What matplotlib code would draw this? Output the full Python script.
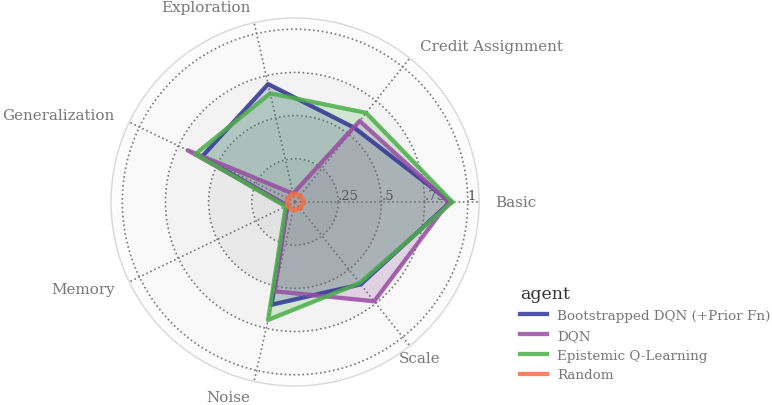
import numpy as np
import matplotlib
matplotlib.use("Agg")
import matplotlib.pyplot as plt

# ---- data ----
categories = ["Basic", "Credit Assignment", "Exploration", "Generalization",
              "Memory", "Noise", "Scale"]
agents = ["Bootstrapped DQN (+Prior Fn)", "DQN", "Epistemic Q-Learning", "Random"]
boot_dqn = [0.90, 0.55, 0.70, 0.60, 0.05, 0.61, 0.61]
dqn = [0.89, 0.60, 0.05, 0.69, 0.05, 0.53, 0.735]
epistemic = [0.91, 0.66, 0.645, 0.64, 0.06, 0.70, 0.60]
random_agent = [0.05, 0.05, 0.05, 0.05, 0.05, 0.05, 0.05]
series = [boot_dqn, dqn, epistemic, random_agent]
colors = ["#313695", "#984ea3", "#4daf4a", "#f46d43"]
r_ticks = [0.25, 0.5, 0.75, 1.0]
r_tick_labels = [".25", ".5", ".75", "1"]
band_colors = ["#e2e2e2", "#e9e9e9", "#f3f3f3", "#f9f9f9"]

plt.rcParams["font.family"] = ["DejaVu Serif"]

fig = plt.figure(figsize=(7.72, 4.06), dpi=100, facecolor="white")
ax = fig.add_axes([0.1438, 0.0468, 0.4767, 0.9064], polar=True)
ax.set_facecolor("#fcfcfc")
rmax = 1.065
ax.set_ylim(0, rmax)

# background circular bands
full = np.linspace(0, 2 * np.pi, 361)
inner = 0.0
for r, c in zip(r_ticks, band_colors):
    ax.fill_between(full, inner, r, color=c, zorder=0, linewidth=0)
    inner = r

n = len(categories)
angles = np.linspace(0, 2 * np.pi, n, endpoint=False)
closed = np.concatenate([angles, angles[:1]])

for name, vals, col in zip(agents, series, colors):
    v = np.concatenate([vals, vals[:1]])
    ax.plot(closed, v, "-", linewidth=3.1, color=col, alpha=0.85, label=name, zorder=3)
    ax.fill(closed, v, color=col, alpha=0.2, zorder=2)

ax.set_thetagrids(np.degrees(angles), categories, fontsize=10.9, color="#777777")
deg = np.degrees(angles)
labels = ax.get_xticklabels()
for lab, a in zip(labels[:-1], deg[:-1]):
    if 90 <= a <= 270:
        lab.set_horizontalalignment("right")
    else:
        lab.set_horizontalalignment("left")
ax.tick_params(axis="x", pad=1)

ax.set_rgrids(r_ticks, r_tick_labels, angle=0, fontsize=9.5, color="#444444")
for lab in ax.get_yticklabels():
    lab.set_horizontalalignment("left")
    lab.set_verticalalignment("bottom")

ax.grid(True, color="#777777", linestyle=":", linewidth=1.2)
ax.spines["polar"].set_color("#d8d8d8")
ax.spines["polar"].set_linewidth(1.0)

handles, labs = ax.get_legend_handles_labels()
leg = fig.legend(handles, labs, title="agent", loc="upper left",
                 bbox_to_anchor=(511 / 772, 1 - 277 / 406), frameon=False,
                 fontsize=9.7, title_fontsize=12.5, alignment="left",
                 handlelength=2.0, handletextpad=0.75, labelspacing=0.5,
                 borderpad=0.2)
for t in leg.get_texts():
    t.set_color("#777777")
leg.get_title().set_color("#333333")
for h in leg.legend_handles:
    h.set_linewidth(3.1)

fig.savefig("out.png", dpi=100, facecolor="white")
